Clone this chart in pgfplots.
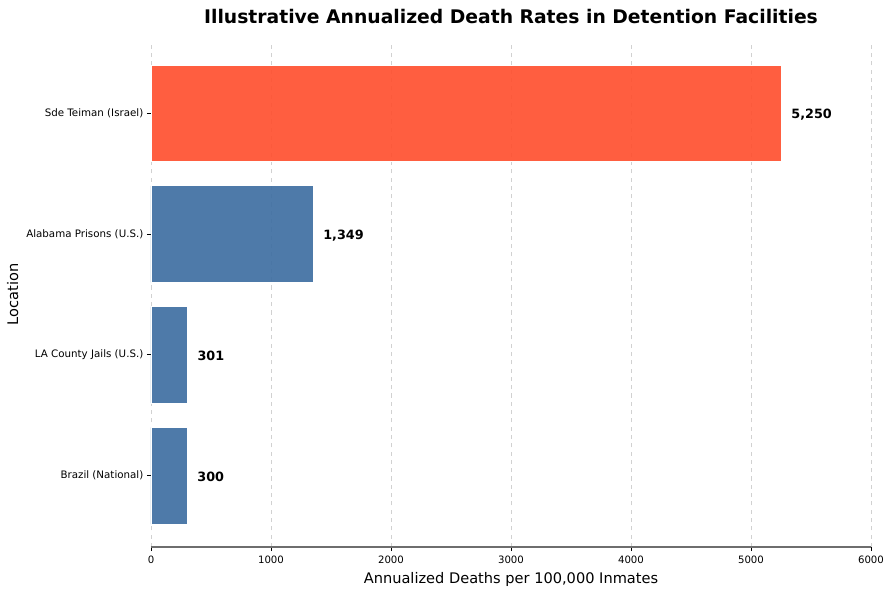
\documentclass[border=0pt]{standalone}
\usepackage{fontspec}
\setmainfont{DejaVu Sans}
\usepackage{pgfplots}
\pgfplotsset{compat=1.18}
\definecolor{redbar}{HTML}{FF5030}
\definecolor{bluebar}{HTML}{3F6FA2}
\definecolor{spinegray}{HTML}{6E6E6E}
\begin{document}
\begin{tikzpicture}
\begin{axis}[
  at={(0,0)}, anchor=south west,
  scale only axis, width=518.4bp, height=363.6bp,
  xbar, bar shift=0pt, bar width=0.8,
  xmin=0, xmax=6000, ymin=-0.59, ymax=3.59,
  ytick={0,1,2,3},
  yticklabels={Brazil (National), LA County Jails (U.S.), Alabama Prisons (U.S.), Sde Teiman (Israel)},
  xtick={0,1000,...,6000},
  /pgf/number format/assume math mode=true,
  /pgf/number format/1000 sep={},
  axis x line=bottom, axis y line=left,
  axis line style={-},
  x axis line style={spinegray, line width=0.8pt},
  y axis line style={draw=none},
  tick align=outside,
  major tick length=3bp,
  tick style={black, line width=0.6pt},
  xticklabel style={font=\fontsize{7.3bp}{8bp}\selectfont},
  yticklabel style={font=\fontsize{7.4bp}{8bp}\selectfont, xshift=1bp},
  xmajorgrids,
  grid style={dashed, black!18, line width=0.5pt},
  xlabel={Annualized Deaths per 100,000 Inmates},
  ylabel={Location},
  xlabel style={font=\fontsize{10.5bp}{12bp}\selectfont, yshift=0.5bp},
  ylabel style={font=\fontsize{10.5bp}{12bp}\selectfont, at={(axis description cs:-0.1775,0.5)}, anchor=south},
  title={Illustrative Annualized Death Rates in Detention Facilities},
  title style={font=\bfseries\fontsize{13.5bp}{16bp}\selectfont, yshift=3.5bp},
  nodes near coords={\pgfmathprintnumber[1000 sep={,}, assume math mode=true]{\pgfplotspointmeta}},
  nodes near coords align=horizontal,
  every node near coord/.append style={font=\bfseries\fontsize{9.2bp}{10bp}\selectfont, black, anchor=west, xshift=4bp, yshift=-1bp, fill opacity=1, text opacity=1},
]
\addplot[fill=redbar, draw=white, line width=0.4pt, fill opacity=0.92] coordinates {(5250,3)};
\addplot[fill=bluebar, draw=white, line width=0.4pt, fill opacity=0.92] coordinates {(1349,2) (301,1) (300,0)};
\end{axis}
\pgfresetboundingbox
\useasboundingbox (-108.72bp,-32.4bp) rectangle (533.52bp,393.84bp);
\end{tikzpicture}
\end{document}
